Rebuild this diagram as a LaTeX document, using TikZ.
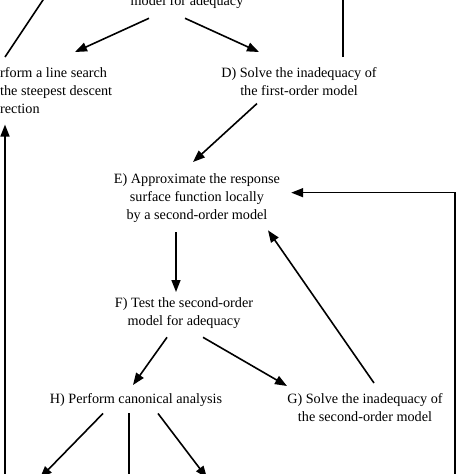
\documentclass[tikz,border=0pt]{standalone}
\usepackage{fontspec}
\setmainfont{Liberation Serif}
\usepackage{tikz}
\usetikzlibrary{arrows.meta}

\begin{document}
\begin{tikzpicture}[x=1pt,y=1pt]
			\tikzstyle{every node}+=[inner sep=0pt, font=\fontsize{14.2}{18}\selectfont]
			\tikzstyle{arr}=[black, line width=1.6pt, -{Triangle[length=12pt,width=9pt]}]
			\tikzstyle{ln}=[black, line width=1.6pt]
			\useasboundingbox (0,0) rectangle (474,-474);
			\clip (0,0) rectangle (474,-474);
			\node [anchor=base] (C) at (187,-5) {model for adequacy};
			\node [anchor=north west, align=left] (B) at (0,-67) {rform a line search\\the steepest descent\\rection};
			\node [anchor=north, align=center] (D) at (299,-67) {D) Solve the inadequacy of\\the first-order model};
			\node [anchor=north, align=center] (E) at (197,-173) {E) Approximate the response\\surface function locally\\by a second-order model};
			\node [anchor=north, align=center] (F) at (184,-297) {F) Test the second-order\\model for adequacy};
			\node [anchor=north] (H) at (136,-393) {H) Perform canonical analysis};
			\node [anchor=north, align=center] (G) at (365,-393) {G) Solve the inadequacy of\\the second-order model};
			\coordinate (topl) at (47,6);
			\coordinate (topr) at (343,6);
			\coordinate (botl) at (5,-480);
			\coordinate (botr) at (455,-480);
			\coordinate (out1) at (40,-478);
			\coordinate (out2) at (129,-480);
			\coordinate (out3) at (207,-478);
			\draw [arr] ([shift={(-38,-10)}]C.south) -- ([shift={(75,15)}]B.north west);
			\draw [arr] ([shift={(-2,-10)}]C.south) -- ([shift={(-40,15)}]D.north);
			\draw [ln] ([shift={(5,10)}]B.north west) -- (topl);
			\draw [ln] ([shift={(44,10)}]D.north) -- (topr);
			\draw [arr] (botl) -- ([shift={(5,-11)}]B.south west);
			\draw [arr] ([shift={(-42,-8)}]D.south) -- ([shift={(-4,11)}]E.north);
			\draw [arr] ([shift={(-21,-10)}]E.south) -- ([shift={(-8,5)}]F.north);
			\draw [arr] (botr) |- ([shift={(11,5)}]E.east);
			\draw [arr] ([shift={(-17,-9)}]F.south) -- ([shift={(-3,8)}]H.north);
			\draw [arr] ([shift={(19,-9)}]F.south) -- ([shift={(-78,7)}]G.north);
			\draw [arr] ([shift={(9,10)}]G.north) -- ([shift={(71,-8)}]E.south);
			\draw [arr] ([shift={(-33,-7)}]H.south) -- (out1);
			\draw [ln] ([shift={(-7,-7)}]H.south) -- (out2);
			\draw [arr] ([shift={(22,-7)}]H.south) -- (out3);
\end{tikzpicture}
\end{document}
